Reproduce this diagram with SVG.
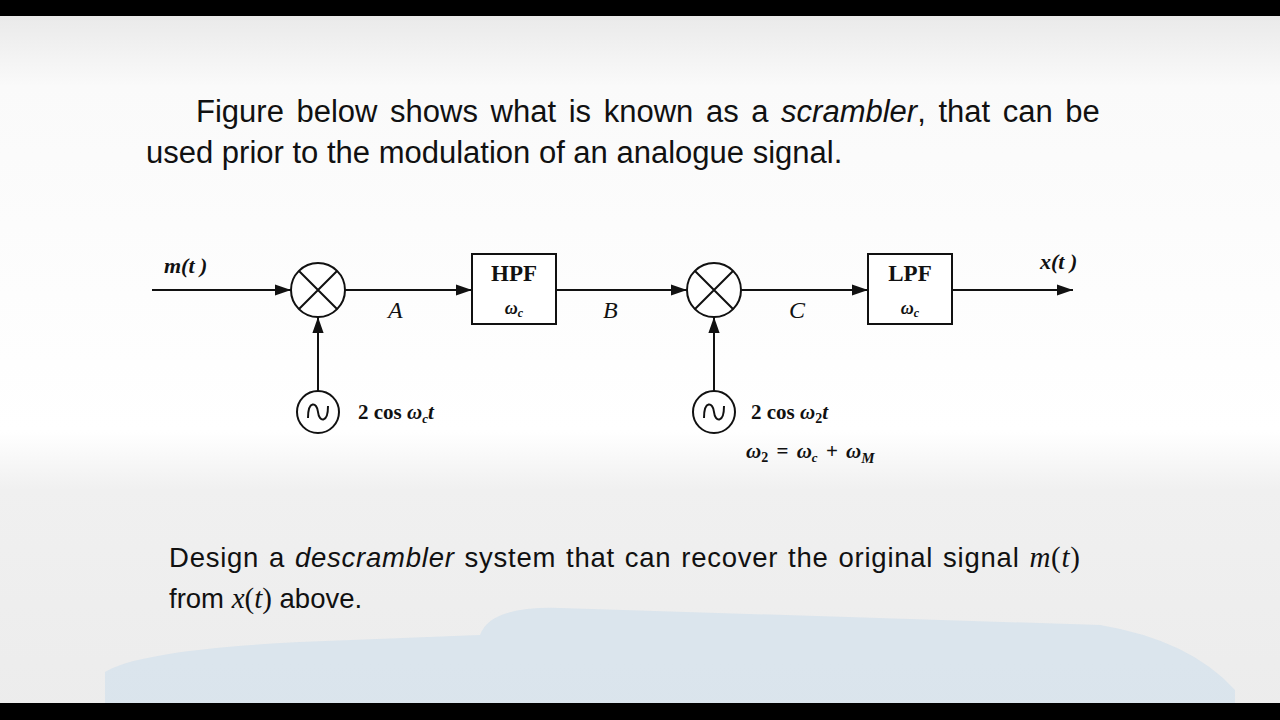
<svg xmlns="http://www.w3.org/2000/svg" width="1280" height="720" viewBox="0 0 1280 720">
<defs>
<linearGradient id="bg" x1="0" y1="0" x2="0" y2="1">
<stop offset="0" stop-color="#e6e6e6"/><stop offset="0.12" stop-color="#fafafa"/><stop offset="0.6" stop-color="#ffffff"/><stop offset="0.68" stop-color="#f0f0f0"/><stop offset="1" stop-color="#ececec"/>
</linearGradient>
<marker id="ar" viewBox="0 0 10 10" refX="10" refY="5" markerWidth="16" markerHeight="16" markerUnits="userSpaceOnUse" orient="auto"><path d="M0,1.5 L10,5 L0,8.5 Z" fill="#111"/></marker>
</defs>
<style>
.ln{stroke:#111;stroke-width:2;fill:none}
.bx{stroke:#111;stroke-width:2;fill:#fff}
.t{font-family:"Liberation Sans",Arial,sans-serif;font-size:31px;fill:#111}
.b{font-family:"Liberation Sans",Arial,sans-serif;font-size:27.5px;fill:#111}
.d{font-family:"Liberation Serif","Times New Roman",serif;fill:#111;font-weight:bold}
.m{font-family:"Liberation Serif","Times New Roman",serif;fill:#111}
</style>
<rect width="1280" height="720" fill="url(#bg)"/>
<path d="M105,672 Q140,650 300,642 L480,635 Q490,606 560,608 L1100,625 Q1190,640 1235,690 L1235,703 L105,703 Z" fill="#d6e2ec" opacity="0.8"/>
<rect width="1280" height="16" fill="#000"/>
<rect y="703" width="1280" height="17" fill="#000"/>
<text class="t" x="196" y="122" word-spacing="4">Figure below shows what is known as a <tspan font-style="italic">scrambler</tspan>, that can be</text>
<text class="t" x="146" y="163">used prior to the modulation of an analogue signal.</text>
<text class="b" x="169" y="567" word-spacing="1.5" textLength="911" lengthAdjust="spacing">Design a <tspan font-style="italic">descrambler</tspan> system that can recover the original signal <tspan class="m" font-style="italic" font-size="29">m</tspan><tspan class="m" font-size="29">(</tspan><tspan class="m" font-style="italic" font-size="29">t</tspan><tspan class="m" font-size="29">)</tspan></text>
<text class="b" x="169" y="608">from <tspan class="m" font-style="italic" font-size="29">x</tspan><tspan class="m" font-size="29">(</tspan><tspan class="m" font-style="italic" font-size="29">t</tspan><tspan class="m" font-size="29">)</tspan> above.</text>
<g id="connectors">
<line class="ln" x1="152" y1="290" x2="291" y2="290" marker-end="url(#ar)"/>
<line class="ln" x1="345" y1="290" x2="472" y2="290" marker-end="url(#ar)"/>
<line class="ln" x1="556" y1="290" x2="687" y2="290" marker-end="url(#ar)"/>
<line class="ln" x1="741" y1="290" x2="868" y2="290" marker-end="url(#ar)"/>
<line class="ln" x1="952" y1="290" x2="1073" y2="290" marker-end="url(#ar)"/>
<line class="ln" x1="318" y1="391" x2="318" y2="317" marker-end="url(#ar)"/>
<line class="ln" x1="714" y1="391" x2="714" y2="317" marker-end="url(#ar)"/>
<text class="d" x="164" y="273" font-size="22" font-style="italic">m(t )</text>
<text class="d" x="1040" y="269" font-size="22" font-style="italic">x(t )</text>
<text class="m" x="388" y="318" font-size="24" font-style="italic">A</text>
<text class="m" x="603" y="318" font-size="24" font-style="italic">B</text>
<text class="m" x="789" y="318" font-size="24" font-style="italic">C</text>
</g>
<g id="mixer1"><circle class="bx" cx="318" cy="290" r="27"/><path class="ln" d="M299,271 L337,309 M337,271 L299,309"/></g>
<g id="mixer2"><circle class="bx" cx="714" cy="290" r="27"/><path class="ln" d="M695,271 L733,309 M733,271 L695,309"/></g>
<g id="hpf"><rect class="bx" x="472" y="254" width="84" height="70"/><text class="d" x="514" y="281" font-size="23" text-anchor="middle">HPF</text><text class="d" x="514" y="314" font-size="18" font-style="italic" text-anchor="middle">ω<tspan font-size="12" dy="3">c</tspan></text></g>
<g id="lpf"><rect class="bx" x="868" y="254" width="84" height="70"/><text class="d" x="910" y="281" font-size="23" text-anchor="middle">LPF</text><text class="d" x="910" y="314" font-size="18" font-style="italic" text-anchor="middle">ω<tspan font-size="12" dy="3">c</tspan></text></g>
<g id="osc1"><circle class="bx" cx="318" cy="412" r="21"/><path class="ln" d="M308,418 C308,400 317,402 318,412 C319,422 328,424 328,406"/><text class="d" x="358" y="419" font-size="21" font-weight="normal">2 cos <tspan font-weight="bold" font-style="italic">ω</tspan><tspan font-weight="bold" font-style="italic" font-size="13" dy="4">c</tspan><tspan font-weight="bold" font-style="italic" dy="-4">t</tspan></text></g>
<g id="osc2"><circle class="bx" cx="714" cy="412" r="21"/><path class="ln" d="M704,418 C704,400 713,402 714,412 C715,422 724,424 724,406"/><text class="d" x="751" y="419" font-size="21" font-weight="normal">2 cos <tspan font-weight="bold" font-style="italic">ω</tspan><tspan font-size="14" dy="4">2</tspan><tspan font-weight="bold" font-style="italic" dy="-4">t</tspan></text><text class="d" x="746" y="458" font-size="21" font-weight="normal" word-spacing="3"><tspan font-weight="bold" font-style="italic">ω</tspan><tspan font-size="14" dy="4">2</tspan><tspan dy="-4"> = </tspan><tspan font-weight="bold" font-style="italic">ω</tspan><tspan font-weight="bold" font-style="italic" font-size="13" dy="4">c</tspan><tspan dy="-4"> + </tspan><tspan font-weight="bold" font-style="italic">ω</tspan><tspan font-style="italic" font-size="15" dy="5">M</tspan></text></g>
</svg>
